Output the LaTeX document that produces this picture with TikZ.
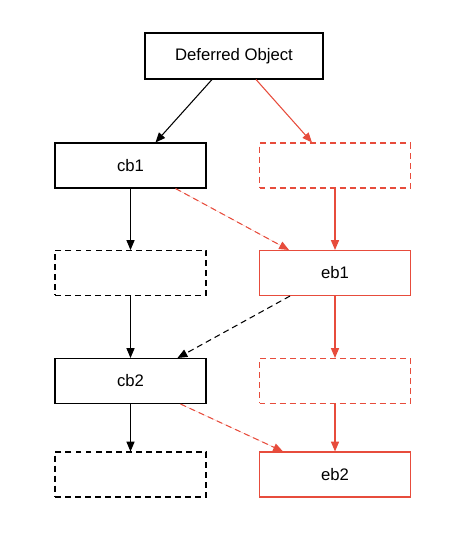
\documentclass[tikz,border=0pt]{standalone}
\usepackage{fontspec}
\setmainfont{Liberation Sans}
\usepackage{tikz}
\usetikzlibrary{arrows.meta,positioning,calc}
\usepackage{xcolor}
\definecolor{errred}{HTML}{E74C3C}

\begin{document}
\begin{tikzpicture}[x=0.02cm, y=-0.02cm,
  cbbox/.style={draw, minimum width=3.02cm, minimum height=0.9cm, align=center, font=\fontsize{9.5}{11}\selectfont, line width=0.6pt},
  ebbox/.style={cbbox, draw=errred},
  ghost/.style={dash pattern=on 3.4pt off 2.3pt},
  link/.style={-{Triangle[length=5.6pt,width=4.6pt]}, line width=0.6pt},
  errlink/.style={link, draw=errred, fill=errred}
]
  \useasboundingbox (0,0) rectangle (474,540);

  \node[cbbox, minimum width=3.56cm, minimum height=0.92cm] (def) at (234,56) {Deferred Object};

  \node[cbbox] (cb1) at (130.5,165.5) {cb1};
  \node[ebbox, ghost] (eskip1) at (335,165.5) {};

  \node[cbbox, ghost] (cskip1) at (130.5,273) {};
  \node[ebbox] (eb1) at (335,273) {eb1};

  \node[cbbox] (cb2) at (130.5,381) {cb2};
  \node[ebbox, ghost] (eskip2) at (335,381) {};

  \node[cbbox, ghost] (cskip2) at (130.5,474.5) {};
  \node[ebbox] (eb2) at (335,474.5) {eb2};

  % done / fail branches
  \draw[link] ($(def.south)+(-22,0)$) -- ($(cb1.north)+(25,0)$);
  \draw[errlink] ($(def.south)+(22,0)$) -- ($(eskip1.north)+(-23,0)$);

  \draw[link] (cb1) -- (cskip1);
  \draw[errlink, ghost] ($(cb1.south)+(45,0)$) -- ($(eb1.north)+(-46,0)$);
  \draw[errlink] (eskip1) -- (eb1);

  \draw[link, ghost] ($(eb1.south)+(-45,0)$) -- ($(cb2.north)+(47,0)$);
  \draw[link] (cskip1) -- (cb2);
  \draw[errlink] (eb1) -- (eskip2);

  \draw[link] (cb2) -- (cskip2);
  \draw[errlink, ghost] ($(cb2.south)+(50,0)$) -- ($(eb2.north)+(-52,0)$);
  \draw[errlink] (eskip2) -- (eb2);
\end{tikzpicture}
\end{document}
